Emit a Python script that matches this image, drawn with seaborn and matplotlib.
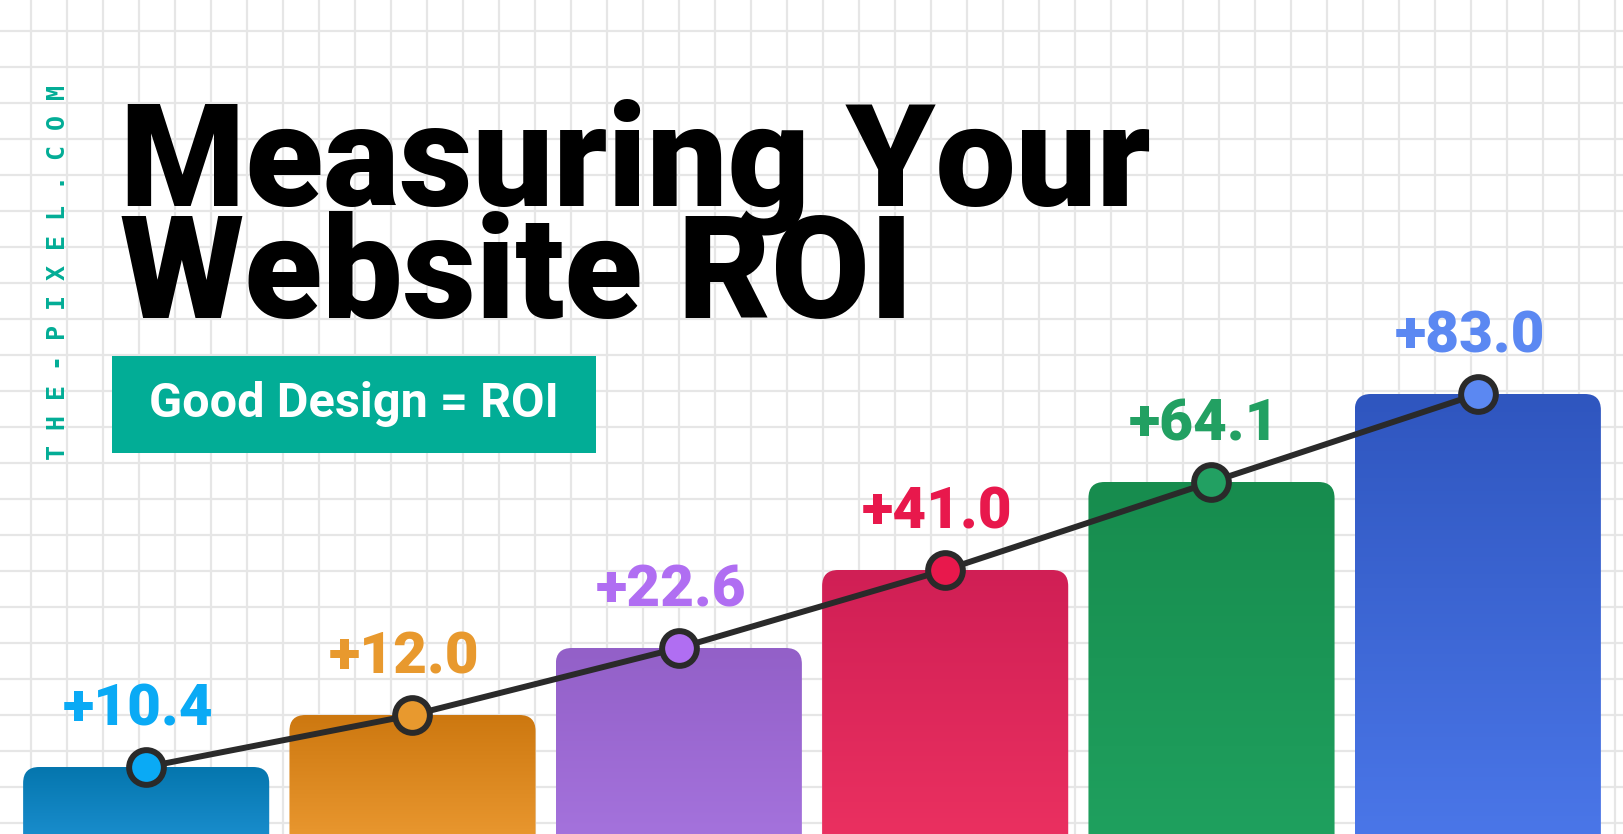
import numpy as np
import pandas as pd
import matplotlib
matplotlib.use("Agg")
import matplotlib.pyplot as plt
import seaborn as sns
from matplotlib.patches import FancyBboxPatch, Rectangle
from matplotlib.colors import to_rgb

# ---- data ----
categories = ["A", "B", "C", "D", "E", "F"]
roi_values = [10.4, 12.0, 22.6, 41.0, 64.1, 83.0]
bar_heights = [67, 119, 186, 264, 352, 440]   # visual heights
label_colors = ["#0aaaf5", "#e8992e", "#b06ef2", "#e8184c", "#22a062", "#5b88f2"]
top_colors = ["#0576ae", "#cd7810", "#9360c8", "#d01f55", "#178c4e", "#2f56bf"]
bottom_colors = ["#188ccb", "#e8962e", "#a472dc", "#ea3060", "#1fa05e", "#4a76e8"]
title_lines = ["Measuring Your", "Website ROI"]
badge_text = "Good Design = ROI"
side_text = "THE-PIXEL.COM"

W, H = 1624, 834
sns.set_theme(style="white")
plt.rcParams['font.family'] = ['Roboto', 'DejaVu Sans']
fig = plt.figure(figsize=(W/100, H/100), dpi=100)
fig.patch.set_facecolor("white")

bg = fig.add_axes([0, 0, 1, 1])
bg.set_xlim(0, W); bg.set_ylim(H, 0); bg.axis("off")
for g in np.arange(31, W, 36):
    bg.axvline(g, color="#e6e6e6", lw=1.6, zorder=0)
for g in np.arange(31, H, 36):
    bg.axhline(g, color="#e6e6e6", lw=1.6, zorder=0)

ax = fig.add_axes([13/W, 0, 1598/W, 1])
ax.set_facecolor("none")
df = pd.DataFrame({"cat": categories, "h": bar_heights})
sns.barplot(data=df, x="cat", y="h", ax=ax, width=0.924, color="gray")
ax.set_xlim(-0.5, 5.5); ax.set_ylim(0, H)
ax.axis("off")

patches = list(ax.patches)
for i, p in enumerate(patches):
    x0, y0, w, h = p.get_x(), p.get_y(), p.get_width(), p.get_height()
    p.remove()
    rpx = 16
    fb = FancyBboxPatch((x0, y0 - 30), w, h + 30,
                        boxstyle="round,pad=0,rounding_size=%f" % (rpx / 266.3),
                        mutation_aspect=266.3, facecolor="none", edgecolor="none")
    ax.add_patch(fb)
    c1, c2 = np.array(to_rgb(bottom_colors[i])), np.array(to_rgb(top_colors[i]))
    t = np.linspace(0, 1, 100)[:, None]
    grad = (c1 * (1 - t) + c2 * t)[:, None, :]
    im = ax.imshow(grad, extent=(x0, x0 + w, y0, y0 + h), origin="lower",
                   aspect="auto", zorder=1)
    im.set_clip_path(fb)

xs = np.arange(len(categories))
ax.plot(xs, bar_heights, color="#2a2a2a", lw=4.3, zorder=3)
for i in xs:
    ax.plot(i, bar_heights[i], "o", ms=25, mfc=label_colors[i], mec="#2a2a2a",
            mew=4.3, zorder=4)
    ax.text(i - 0.03, bar_heights[i] + 57, "+%.1f" % roi_values[i], ha="center",
            va="center", fontsize=42, fontweight="black", color=label_colors[i], zorder=5)

ax.set_ylim(0, H)

bg.text(120, 205, title_lines[0], fontsize=103, fontweight="black", color="black",
        ha="left", va="baseline")
bg.text(120, 318, title_lines[1], fontsize=103, fontweight="black", color="black",
        ha="left", va="baseline")

bg.add_patch(Rectangle((112, 356), 484, 97, facecolor="#02ad96", edgecolor="none", zorder=2))
bg.text(354, 404, badge_text, fontsize=35, fontweight="bold", color="white",
        ha="center", va="center", zorder=3)

bg.text(58, 272, " ".join(side_text), rotation=90, fontsize=18, fontweight="bold",
        color="#02ad96", ha="center", va="center", family=["DejaVu Sans Mono", "DejaVu Sans"])

fig.savefig("out.png", dpi=100)
